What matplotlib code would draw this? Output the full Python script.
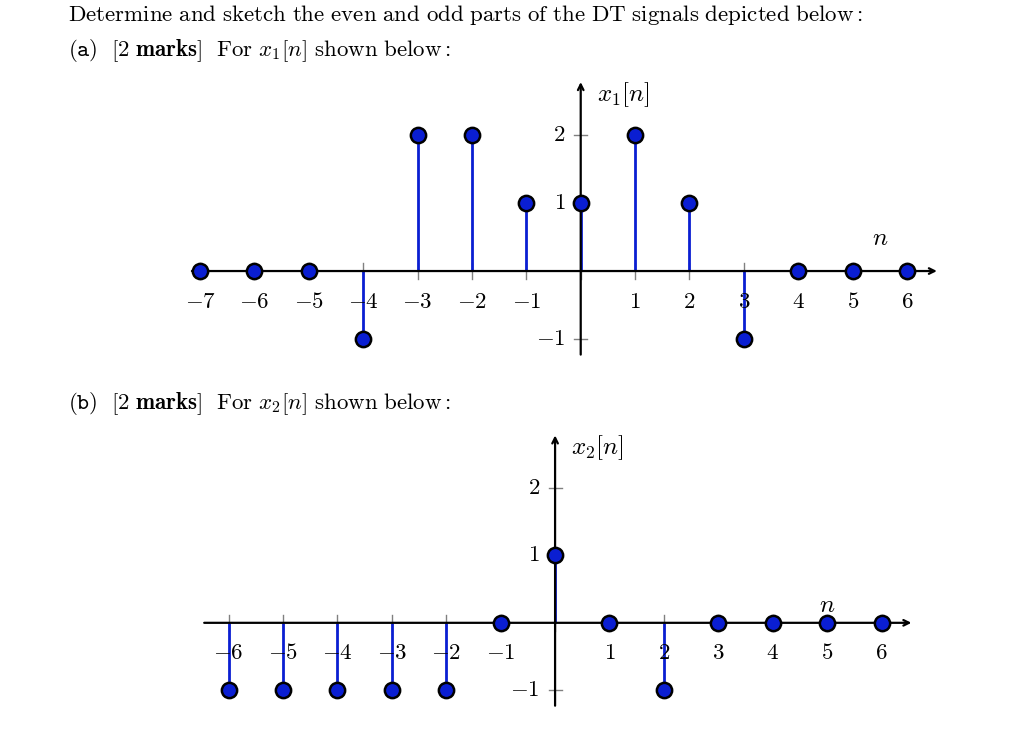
import numpy as np
import matplotlib.pyplot as plt

plt.rcParams['font.family'] = 'DejaVu Serif'
plt.rcParams['mathtext.fontset'] = 'cm'

n1 = np.arange(-7, 7)
x1 = [0, 0, 0, -1, 2, 2, 1, 1, 2, 1, -1, 0, 0, 0]
n2 = np.arange(-6, 7)
x2 = [-1, -1, -1, -1, -1, 0, 1, 0, -1, 0, 0, 0, 0]

blue = '#0a1ed2'
fig = plt.figure(figsize=(10.24, 7.45), dpi=100)

fig.text(68/1024, 1-15/745, r"$\mathrm{Determine\ and\ sketch\ the\ even\ and\ odd\ parts\ of\ the\ DT\ signals\ depicted\ below:}$",
         fontsize=16.5, va='center')
fig.text(68/1024, 1-50/745, r"$\mathtt{(a)}\ \ \mathrm{[}\mathbf{2\ marks}\mathrm{]}\ \ \mathrm{For}\ x_1[n]\ \mathrm{shown\ below:}$",
         fontsize=16.5, va='center')
fig.text(68/1024, 1-403/745, r"$\mathtt{(b)}\ \ \mathrm{[}\mathbf{2\ marks}\mathrm{]}\ \ \mathrm{For}\ x_2[n]\ \mathrm{shown\ below:}$",
         fontsize=16.5, va='center')


def draw(ax, n, x, xmin, ylab, nlab_x, nlab_y):
    ax.set_xlim(-8, 7)
    ax.set_ylim(-1.5, 3)
    ax.axis('off')
    # ticks
    for k in n:
        ax.plot([k, k], [-0.12, 0.12], color='gray', lw=1, zorder=1)
        if k != 0:
            ax.text(k, -0.45, r"$%d$" % k if k > 0 else r"$-%d$" % -k,
                    ha='center', va='center', fontsize=16.5)
    for v in [-1, 1, 2]:
        ax.plot([-0.12, 0.12], [v, v], color='gray', lw=1, zorder=1)
        ax.text(-0.28, v, r"$%d$" % v if v > 0 else r"$-1$", ha='right', va='center', fontsize=16.5)
    # axes arrows
    ax.annotate('', xy=(6.6, 0), xytext=(xmin, 0),
                arrowprops=dict(arrowstyle='->', color='black', lw=1.6))
    ax.annotate('', xy=(0, 2.82), xytext=(0, -1.27),
                arrowprops=dict(arrowstyle='->', color='black', lw=1.6))
    ax.vlines(n, 0, x, color=blue, lw=2, zorder=2)
    ax.plot(n, x, 'o', ms=11, mfc=blue, mec='black', mew=1.8, zorder=3)
    ax.text(0.3, 2.6, ylab, fontsize=18, ha='left', va='center')
    ax.text(nlab_x, nlab_y, r"$n$", fontsize=18, ha='center', va='center')


ax1 = fig.add_axes([0.1422, 0.4993, 0.7967, 0.4107])
draw(ax1, n1, x1, -7.2, r"$x_1[n]$", 5.5, 0.48)
ax2 = fig.add_axes([0.117, 0.0282, 0.797, 0.4074])
draw(ax2, n2, x2, -6.5, r"$x_2[n]$", 5.0, 0.25)

plt.savefig('out.png')
